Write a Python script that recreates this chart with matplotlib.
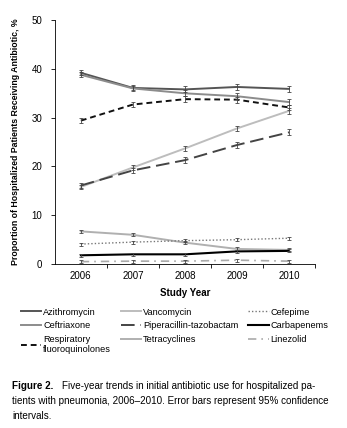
import matplotlib
matplotlib.use("Agg")
import matplotlib.pyplot as plt
import numpy as np

plt.rcParams['font.family'] = ['Liberation Sans', 'DejaVu Sans']

years = ['2006', '2007', '2008', '2009', '2010']

azithromycin = [39.2, 36.1, 35.8, 36.3, 35.9]
ceftriaxone = [38.8, 36.0, 35.0, 34.4, 33.2]
resp_fq = [29.4, 32.7, 33.8, 33.7, 32.1]
vancomycin = [15.8, 19.8, 23.7, 27.8, 31.4]
pip_tazo = [16.1, 19.2, 21.3, 24.4, 27.0]
tetracyclines = [6.7, 6.0, 4.4, 3.1, 2.9]
cefepime = [4.1, 4.5, 4.8, 5.0, 5.3]
carbapenems = [1.8, 2.0, 2.0, 2.6, 2.7]
linezolid = [0.5, 0.6, 0.6, 0.8, 0.6]

# 95% CI half-widths (approximate)
ci_big = [0.5, 0.5, 0.6, 0.6, 0.6]
ci_small = [0.3, 0.3, 0.3, 0.3, 0.3]

fig = plt.figure(figsize=(3.47, 4.28), dpi=100)
ax = fig.add_axes([0.158, 0.383, 0.75, 0.57])

x = np.arange(len(years))

series = [
    ('Azithromycin', azithromycin, ci_big, '#555555', '-', 1.4),
    ('Ceftriaxone', ceftriaxone, ci_big, '#8c8c8c', '-', 1.4),
    ('Respiratory\nfluoroquinolones', resp_fq, ci_big, '#111111', (0, (3, 2)), 1.4),
    ('Vancomycin', vancomycin, ci_big, '#bdbdbd', '-', 1.4),
    ('Piperacillin-tazobactam', pip_tazo, ci_big, '#444444', (0, (7, 3)), 1.4),
    ('Tetracyclines', tetracyclines, ci_small, '#b0b0b0', '-', 1.4),
    ('Cefepime', cefepime, ci_small, '#777777', (0, (1, 1.5)), 1.0),
    ('Carbapenems', carbapenems, ci_small, '#000000', '-', 1.5),
    ('Linezolid', linezolid, ci_small, '#aaaaaa', (0, (5, 3, 1, 3)), 1.2),
]

handles = []
for name, vals, err, color, ls, lw in series:
    ax.errorbar(x, vals, yerr=err, fmt='none', ecolor='#444444',
                elinewidth=0.6, capsize=1.5, capthick=0.6, zorder=3)
    line, = ax.plot(x, vals, color=color, linestyle=ls, linewidth=lw,
                    label=name, zorder=2)
    handles.append(line)

ax.set_xlim(-0.5, 4.5)
ax.set_ylim(0, 50)
ax.set_yticks([0, 10, 20, 30, 40, 50])
ax.set_xticks(np.arange(0.5, 5, 1))
ax.set_xticklabels([])
ax.set_xticks(x, minor=True)
ax.set_xticklabels(years, minor=True)
ax.tick_params(axis='x', which='minor', length=0, labelsize=7, pad=5)
ax.tick_params(axis='x', which='major', length=3, width=0.6)
ax.tick_params(axis='y', labelsize=7, length=3, width=0.6, pad=6)
ax.spines['top'].set_visible(False)
ax.spines['right'].set_visible(False)
ax.spines['left'].set_linewidth(0.6)
ax.spines['bottom'].set_linewidth(0.6)
ax.set_ylabel('Proportion of Hospitalized Patients Receiving Antibiotic, %',
              fontsize=6.3, fontweight='bold', labelpad=8)
ax.set_xlabel('Study Year', fontsize=7, fontweight='bold', labelpad=5)

fig.legend(handles=handles, loc='upper left', bbox_to_anchor=(0.05, 0.29),
           ncol=3, frameon=False, fontsize=6.6, handlelength=2.2,
           handletextpad=0.2, columnspacing=1.1, labelspacing=0.5,
           borderaxespad=0)

# caption: bold lead-in followed by regular text
cap_size = 7.1
cap_x, cap_y = 0.035, 0.09
lead = fig.text(cap_x, cap_y, 'Figure 2.', fontsize=cap_size, fontweight='bold')
fig.canvas.draw()
bb = lead.get_window_extent().transformed(fig.transFigure.inverted())
fig.text(bb.x1 + 0.025, cap_y,
         'Five-year trends in initial antibiotic use for hospitalized pa-',
         fontsize=cap_size)
fig.text(cap_x, cap_y - 0.034,
         'tients with pneumonia, 2006\u20132010. Error bars represent 95% confidence',
         fontsize=cap_size)
fig.text(cap_x, cap_y - 0.068, 'intervals.', fontsize=cap_size)

fig.savefig('out.png', dpi=100)
